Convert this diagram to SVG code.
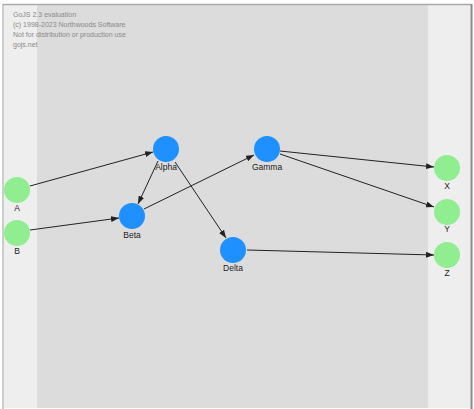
<svg xmlns="http://www.w3.org/2000/svg" width="474" height="409" viewBox="0 0 474 409">
<defs>
<style>
.lbl{font-family:"Liberation Sans",Arial,sans-serif;font-size:8.5px;fill:#222;text-anchor:middle}
.wm{font-family:"Liberation Sans",Arial,sans-serif;font-size:7px;fill:#8a8a8a}
.blue{fill:#1E90FF}
.green{fill:#90EE90}
.edge{stroke:#222;stroke-width:1;fill:none;marker-end:url(#arr)}
</style>
<marker id="arr" viewBox="0 0 8 6" refX="8" refY="3" markerWidth="8" markerHeight="6" markerUnits="userSpaceOnUse" orient="auto">
<path d="M0,0 L8,3 L0,6 Z" fill="#222"/>
</marker>
</defs>
<rect x="0" y="0" width="474" height="409" fill="#ffffff"/>
<g id="lanes">
<rect x="4" y="5" width="33" height="403" fill="#EEEEEE"/>
<rect x="37" y="5" width="391" height="403" fill="#DCDCDC"/>
<rect x="428" y="5" width="42" height="403" fill="#EEEEEE"/>
<line x1="3" y1="4" x2="3" y2="409" stroke="#999" stroke-width="1"/>
<line x1="3" y1="4.5" x2="471" y2="4.5" stroke="#aaa" stroke-width="1.5"/>
<line x1="471.5" y1="4" x2="471.5" y2="409" stroke="#888" stroke-width="2"/>
</g>
<g id="watermark">
<text class="wm" x="13" y="17">GoJS 2.3 evaluation</text>
<text class="wm" x="13" y="27">(c) 1998-2023 Northwoods Software</text>
<text class="wm" x="13" y="37">Not for distribution or production use</text>
<text class="wm" x="13" y="47">gojs.net</text>
</g>
<g id="connectors">
<line class="edge" x1="30" y1="186" x2="153" y2="152"/>
<line class="edge" x1="30" y1="230" x2="119" y2="218"/>
<line class="edge" x1="158" y1="161" x2="138" y2="204"/>
<line class="edge" x1="144" y1="209" x2="254" y2="155"/>
<line class="edge" x1="175" y1="162" x2="226" y2="238"/>
<line class="edge" x1="280" y1="151" x2="434" y2="167"/>
<line class="edge" x1="280" y1="154" x2="434" y2="207"/>
<line class="edge" x1="247" y1="250" x2="434" y2="255"/>
</g>
<g id="node-A"><circle class="green" cx="17" cy="190" r="13"/><text class="lbl" x="17" y="211">A</text></g>
<g id="node-B"><circle class="green" cx="17" cy="233" r="13"/><text class="lbl" x="17" y="254">B</text></g>
<g id="node-Alpha"><circle class="blue" cx="166" cy="149" r="13"/><text class="lbl" x="166" y="170">Alpha</text></g>
<g id="node-Beta"><circle class="blue" cx="132" cy="216" r="13"/><text class="lbl" x="132" y="238">Beta</text></g>
<g id="node-Gamma"><circle class="blue" cx="267" cy="149" r="13"/><text class="lbl" x="267" y="170">Gamma</text></g>
<g id="node-Delta"><circle class="blue" cx="233" cy="250" r="13"/><text class="lbl" x="233" y="271">Delta</text></g>
<g id="node-X"><circle class="green" cx="447" cy="168" r="13"/><text class="lbl" x="447" y="189">X</text></g>
<g id="node-Y"><circle class="green" cx="447" cy="212" r="13"/><text class="lbl" x="447" y="232">Y</text></g>
<g id="node-Z"><circle class="green" cx="447" cy="255" r="13"/><text class="lbl" x="447" y="276">Z</text></g>
</svg>
